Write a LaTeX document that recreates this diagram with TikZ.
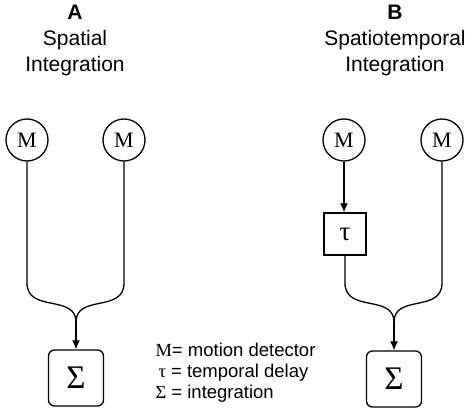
\documentclass[tikz,border=0pt]{standalone}
\usepackage{fontspec}
\setmainfont{Liberation Sans}
\newfontfamily\serifgr{Liberation Serif}
\usetikzlibrary{arrows.meta}
\begin{document}
\begin{tikzpicture}[x=1pt,y=-1pt,
  det/.style={circle,draw,line width=1.3pt,minimum size=42pt,inner sep=0pt,font=\serifgr\fontsize{22}{22}\selectfont},
  delaybox/.style={rectangle,draw,line width=1.3pt,minimum width=42pt,minimum height=42pt,inner sep=0pt,font=\serifgr\fontsize{27}{27}\selectfont},
  sumbox/.style={rectangle,rounded corners=6pt,draw,line width=1.3pt,minimum width=55pt,minimum height=56pt,inner sep=0pt,font=\serifgr\fontsize{33}{33}\selectfont},
  wire/.style={line width=1.3pt},
  arr/.style={line width=1.3pt,-{Latex[length=9pt,width=8pt]}},
  title/.style={anchor=base,font=\fontsize{21}{21}\selectfont},
  legend/.style={anchor=base west,font=\fontsize{18.5}{18.5}\selectfont}]
\useasboundingbox (0,0) rectangle (474,414);
% titles
\node[title,font=\bfseries\fontsize{21}{21}\selectfont] (tA) at (75,20) {A};
\node[title] (tA1) at (75,46) {Spatial};
\node[title] (tA2) at (75,72) {Integration};
\node[title,font=\bfseries\fontsize{21}{21}\selectfont] (tB) at (395,20) {B};
\node[title] (tB1) at (395,46) {Spatiotemporal};
\node[title] (tB2) at (395,72) {Integration};
% panel A
\node[det] (M1) at (27,140) {M};
\node[det] (M2) at (124,140) {M};
\node[sumbox] (S1) at (76,378) {Σ};
\coordinate (J1) at (76,322);
\draw[wire] (M1.south) -- (27,283) .. controls +(0,30) and +(0,-28) .. (J1);
\draw[wire] (M2.south) -- (124,283) .. controls +(0,30) and +(0,-28) .. (J1);
\draw[arr] (J1) -- (S1.north);
% panel B
\node[det] (M3) at (344,140) {M};
\node[det] (M4) at (442,140) {M};
\node[delaybox] (T) at (345,234) {τ};
\node[sumbox] (S2) at (394,379) {Σ};
\coordinate (J2) at (394,322);
\draw[arr] (M3.south) -- (T.north -| M3.south);
\draw[wire] (T.south) -- (345,283) .. controls +(0,30) and +(0,-28) .. (J2);
\draw[wire] (M4.south) -- (442,283) .. controls +(0,30) and +(0,-28) .. (J2);
\draw[arr] (J2) -- (S2.north);
% legend
\node[legend] (L1) at (152,356) {{\serifgr M}= motion detector};
\node[legend] (L2) at (155,377) {{\serifgr τ} = temporal delay};
\node[legend] (L3) at (152,398) {{\serifgr Σ} = integration};
\end{tikzpicture}
\end{document}
